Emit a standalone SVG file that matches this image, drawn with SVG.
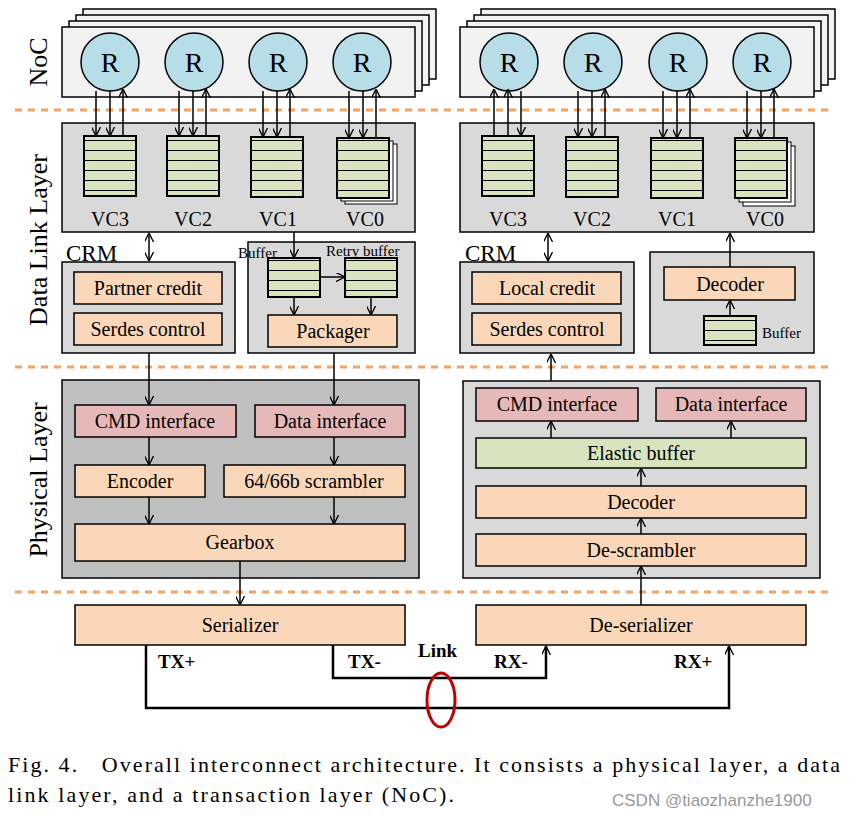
<svg xmlns="http://www.w3.org/2000/svg" width="850" height="816" viewBox="0 0 850 816" font-family="'Liberation Serif', 'DejaVu Serif', serif">
<defs>
<marker id="ah" viewBox="0 0 10 10" refX="10" refY="5" markerWidth="9" markerHeight="9" orient="auto-start-reverse" markerUnits="userSpaceOnUse"><path d="M0,0 L10,5 L0,10" fill="none" stroke="#000" stroke-width="1.5"/></marker>
<pattern id="buf" width="52" height="10" patternUnits="userSpaceOnUse"><rect width="52" height="10" fill="#d7e4bd"/><line x1="0" y1="0" x2="52" y2="0" stroke="#000" stroke-width="2"/></pattern>
</defs>
<style>
text{font-family:'Liberation Serif','DejaVu Serif',serif;fill:#000}
.lb{font-size:20px;text-anchor:middle}
.side{font-size:26px;text-anchor:middle}
.noc{fill:#f2f2f2;stroke:#000;stroke-width:1.5}
.r{fill:#b7dde8;stroke:#000;stroke-width:1.5}
.gray{fill:#d9d9d9;stroke:#000;stroke-width:1.5}
.dgray{fill:#bfbfbf;stroke:#000;stroke-width:1.5}
.or{fill:#fad7b8;stroke:#000;stroke-width:1.5}
.pk{fill:#e6b9b8;stroke:#000;stroke-width:1.5}
.gr{fill:#d7e4bd;stroke:#000;stroke-width:1.5}
.bf{fill:url(#buf);stroke:#000;stroke-width:2}
.dash{stroke:#f4a460;stroke-width:3;stroke-dasharray:7,6;fill:none}
.w{fill:none;stroke:#000;stroke-width:1.5}
.a{fill:none;stroke:#000;stroke-width:1.5;marker-end:url(#ah)}
.da{fill:none;stroke:#000;stroke-width:1.5;marker-end:url(#ah);marker-start:url(#ah)}
.bold{font-weight:bold;font-size:19px}
</style>
<rect width="850" height="816" fill="#fff"/>

<line class="dash" x1="15" y1="110" x2="830" y2="110"/>
<line class="dash" x1="15" y1="367" x2="830" y2="367"/>
<line class="dash" x1="15" y1="592" x2="830" y2="592"/>

<text class="side" transform="translate(38,62) rotate(-90)" dy="9">NoC</text>
<text class="side" transform="translate(38,240) rotate(-90)" dy="9">Data Link Layer</text>
<text class="side" transform="translate(38,480) rotate(-90)" dy="9">Physical Layer</text>

<g id="noc-left">
<rect class="noc" x="83" y="9" width="353" height="70"/>
<rect class="noc" x="76" y="15" width="353" height="70"/>
<rect class="noc" x="69" y="21" width="353" height="70"/>
<rect class="noc" x="62" y="27" width="353" height="70"/>
<circle class="r" cx="110" cy="62" r="29"/><text class="lb" x="110" y="72" style="font-size:28px">R</text>
<circle class="r" cx="194" cy="62" r="29"/><text class="lb" x="194" y="72" style="font-size:28px">R</text>
<circle class="r" cx="278" cy="62" r="29"/><text class="lb" x="278" y="72" style="font-size:28px">R</text>
<circle class="r" cx="362" cy="62" r="29"/><text class="lb" x="362" y="72" style="font-size:28px">R</text>
</g>
<g id="noc-right">
<rect class="noc" x="481" y="9" width="354" height="70"/>
<rect class="noc" x="474" y="15" width="354" height="70"/>
<rect class="noc" x="467" y="21" width="354" height="70"/>
<rect class="noc" x="460" y="27" width="354" height="70"/>
<circle class="r" cx="509" cy="62" r="29"/><text class="lb" x="509" y="72" style="font-size:28px">R</text>
<circle class="r" cx="593" cy="62" r="29"/><text class="lb" x="593" y="72" style="font-size:28px">R</text>
<circle class="r" cx="678" cy="62" r="29"/><text class="lb" x="678" y="72" style="font-size:28px">R</text>
<circle class="r" cx="762" cy="62" r="29"/><text class="lb" x="762" y="72" style="font-size:28px">R</text>
</g>

<g id="dll-left">
<rect class="gray" x="62" y="123" width="353" height="109"/>
<rect class="bf" x="84" y="136" width="52" height="60"/>
<rect class="bf" x="167" y="136" width="52" height="60"/>
<rect class="bf" x="251" y="137" width="52" height="60"/>
<rect fill="#fff" stroke="#000" x="345" y="144" width="52" height="60"/>
<rect fill="#fff" stroke="#000" x="341" y="141" width="52" height="60"/>
<rect class="bf" x="337" y="138" width="52" height="60"/>
<text class="lb" x="110" y="226">VC3</text><text class="lb" x="193" y="226">VC2</text>
<text class="lb" x="278" y="226">VC1</text><text class="lb" x="365" y="226">VC0</text>
</g>
<g id="dll-right">
<rect class="gray" x="460" y="123" width="354" height="109"/>
<rect class="bf" x="482" y="136" width="52" height="60"/>
<rect class="bf" x="566" y="137" width="52" height="60"/>
<rect class="bf" x="651" y="138" width="52" height="60"/>
<rect fill="#fff" stroke="#000" x="743" y="146" width="52" height="60"/>
<rect fill="#fff" stroke="#000" x="739" y="142" width="52" height="60"/>
<rect class="bf" x="735" y="138" width="52" height="60"/>
<text class="lb" x="508" y="226">VC3</text><text class="lb" x="592" y="226">VC2</text>
<text class="lb" x="677" y="226">VC1</text><text class="lb" x="765" y="226">VC0</text>
</g>

<g id="crm-left">
<text x="66" y="261" style="font-size:23px">CRM</text>
<rect class="gray" x="62" y="262" width="173" height="91"/>
<rect class="or" x="74" y="272" width="148" height="32"/><text class="lb" x="148" y="295">Partner credit</text>
<rect class="or" x="74" y="313" width="148" height="32"/><text class="lb" x="148" y="336">Serdes control</text>
</g>
<g id="pkt-left">
<rect class="gray" x="248" y="242" width="167" height="111"/>
<text x="238" y="258" style="font-size:15px">Buffer</text>
<text x="326" y="256" style="font-size:15px">Retry buffer</text>
<rect class="bf" x="268" y="258" width="52" height="39"/>
<rect class="bf" x="345" y="258" width="52" height="39"/>
<rect class="or" x="268" y="315" width="129" height="32"/><text class="lb" x="333" y="338">Packager</text>
</g>
<g id="crm-right">
<text x="465" y="261" style="font-size:23px">CRM</text>
<rect class="gray" x="460" y="262" width="174" height="91"/>
<rect class="or" x="472" y="272" width="149" height="32"/><text class="lb" x="547" y="295">Local credit</text>
<rect class="or" x="472" y="313" width="149" height="32"/><text class="lb" x="547" y="336">Serdes control</text>
</g>
<g id="dec-right">
<rect class="gray" x="650" y="252" width="164" height="101"/>
<rect class="or" x="664" y="267" width="131" height="33"/><text class="lb" x="730" y="291">Decoder</text>
<rect class="bf" x="704" y="316" width="52" height="29"/>
<text x="762" y="338" style="font-size:15px">Buffer</text>
</g>

<g id="phy-left">
<rect class="dgray" x="62" y="380" width="357" height="198"/>
<rect class="pk" x="75" y="405" width="161" height="32"/><text class="lb" x="155" y="428">CMD interface</text>
<rect class="pk" x="255" y="405" width="150" height="32"/><text class="lb" x="330" y="428">Data interface</text>
<rect class="or" x="75" y="465" width="130" height="32"/><text class="lb" x="140" y="488">Encoder</text>
<rect class="or" x="224" y="465" width="181" height="32"/><text class="lb" x="314" y="488">64/66b scrambler</text>
<rect class="or" x="75" y="524" width="330" height="37"/><text class="lb" x="240" y="549">Gearbox</text>
</g>
<g id="phy-right">
<rect class="gray" x="463" y="381" width="357" height="197"/>
<rect class="pk" x="476" y="388" width="162" height="33"/><text class="lb" x="557" y="411">CMD interface</text>
<rect class="pk" x="656" y="388" width="150" height="33"/><text class="lb" x="731" y="411">Data interface</text>
<rect class="gr" x="476" y="438" width="330" height="30"/><text class="lb" x="641" y="460">Elastic buffer</text>
<rect class="or" x="476" y="486" width="330" height="32"/><text class="lb" x="641" y="509">Decoder</text>
<rect class="or" x="476" y="534" width="330" height="32"/><text class="lb" x="641" y="557">De-scrambler</text>
</g>
<g id="serdes">
<rect class="or" x="75" y="605" width="330" height="40"/><text class="lb" x="240" y="632">Serializer</text>
<rect class="or" x="476" y="605" width="330" height="40"/><text class="lb" x="641" y="632">De-serializer</text>
</g>

<g id="connectors">
<path class="a" d="M96,91V136"/><path class="a" d="M110,91V136"/><path class="a" d="M123,136V89"/>
<path class="a" d="M179,91V136"/><path class="a" d="M193,91V136"/><path class="a" d="M206,136V89"/>
<path class="a" d="M263,91V137"/><path class="a" d="M277,91V137"/><path class="a" d="M290,137V89"/>
<path class="a" d="M349,91V138"/><path class="a" d="M363,91V138"/><path class="a" d="M376,138V89"/>
<path class="a" d="M494,136V89"/><path class="a" d="M508,136V89"/><path class="a" d="M521,91V136"/>
<path class="a" d="M578,91V137"/><path class="a" d="M592,91V137"/><path class="a" d="M605,137V89"/>
<path class="a" d="M663,91V138"/><path class="a" d="M677,91V138"/><path class="a" d="M690,138V89"/>
<path class="a" d="M747,91V138"/><path class="a" d="M761,91V138"/><path class="a" d="M774,138V89"/>
<path class="da" d="M149,233V261"/>
<path class="a" d="M294,232V258"/>
<path class="a" d="M320,277H345"/>
<path class="a" d="M294,297V315"/>
<path class="a" d="M371,297V315"/>
<path class="da" d="M548,233V261"/>
<path class="a" d="M730,267V233"/>
<path class="a" d="M730,316V300"/>
<path class="a" d="M149,353V405"/><path class="a" d="M334,353V405"/>
<path class="a" d="M149,437V465"/><path class="a" d="M334,437V465"/>
<path class="a" d="M149,497V524"/><path class="a" d="M334,497V524"/>
<path class="a" d="M240,561V605"/>
<path class="a" d="M551,381V354"/>
<path class="a" d="M551,438V421"/><path class="a" d="M731,438V421"/>
<path class="a" d="M641,486V468"/><path class="a" d="M641,534V518"/>
<path class="a" d="M641,605V566"/>
<path class="w" style="stroke-width:2.5" d="M146,645V708H729V646" marker-end="url(#ah)"/>
<path class="w" style="stroke-width:2.5" d="M333,645V678H546V646" marker-end="url(#ah)"/>
<ellipse cx="441" cy="700" rx="14" ry="27" fill="none" stroke="#c00000" stroke-width="3"/>
</g>
<text class="bold" x="158" y="668">TX+</text>
<text class="bold" x="348" y="668">TX-</text>
<text class="bold" x="494" y="668">RX-</text>
<text class="bold" x="674" y="668">RX+</text>
<text class="bold" x="418" y="657">Link</text>

<text x="8" y="772" style="font-size:22px" textLength="832" lengthAdjust="spacing" xml:space="preserve">Fig. 4.   Overall interconnect architecture. It consists a physical layer, a data</text>
<text x="8" y="802" style="font-size:22px" textLength="446" lengthAdjust="spacing">link layer, and a transaction layer (NoC).</text>
<text x="612" y="806" style="font-family:'Liberation Sans','DejaVu Sans',sans-serif;font-size:17px;fill:#999">CSDN @tiaozhanzhe1900</text>
</svg>
